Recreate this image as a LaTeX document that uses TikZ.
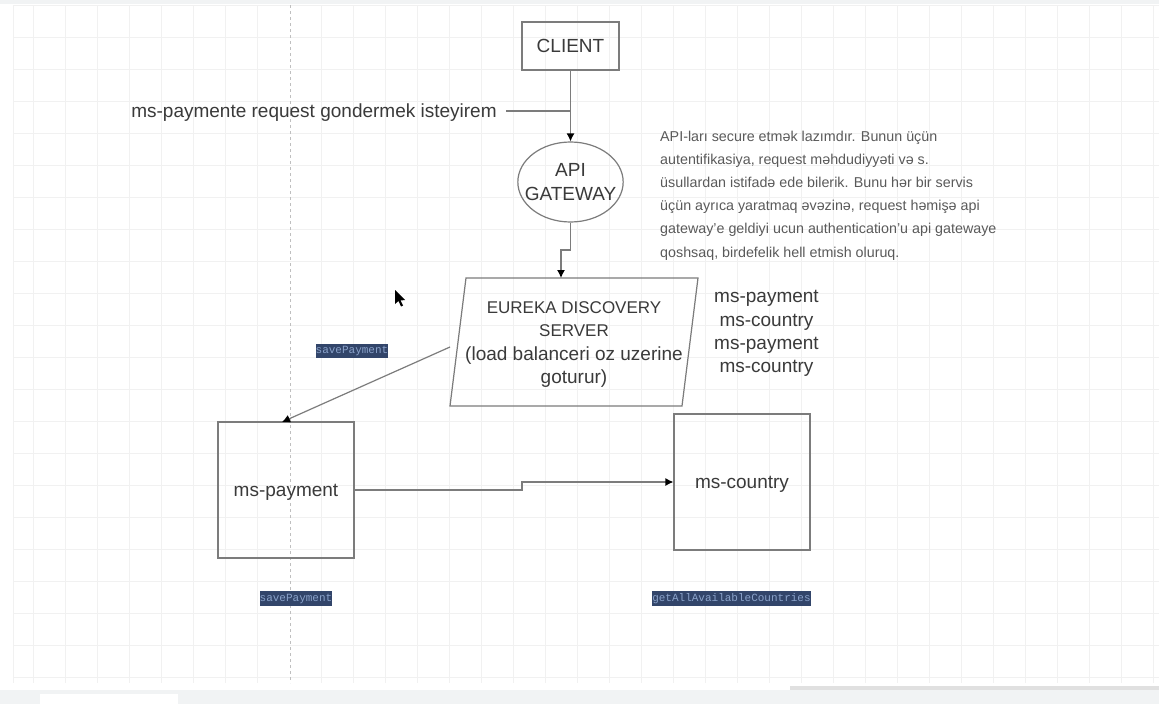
\documentclass[tikz,border=0pt]{standalone}
\usepackage{fontspec}
\setmainfont{Liberation Sans}
\setmonofont{Liberation Mono}
\usepackage{xcolor}
\usetikzlibrary{calc, positioning, arrows.meta, shapes.geometric}
\definecolor{gridgray}{HTML}{F1F1F1}
\definecolor{shapegray}{HTML}{7C7C7C}
\definecolor{textgray}{HTML}{3A3A3A}
\definecolor{notegray}{HTML}{5A5A5A}
\definecolor{markbg}{HTML}{32456A}
\definecolor{marktext}{HTML}{8AA2CA}
\definecolor{barbg}{HTML}{F1F3F4}
\tikzset{
	label19/.style={text=textgray, font=\fontsize{19}{23.5}\selectfont},
	boxshape/.style={draw=shapegray, line width=1.2, label19, inner sep=0},
	squarebox/.style={boxshape, minimum width=136, minimum height=136, text height=17.6, text depth=4},
	flow/.style={draw=shapegray, line width=1.2, -{Latex[length=8,width=8,color=black]}},
	marked/.style={fill=markbg, text=marktext, font=\ttfamily\fontsize{11}{13}\selectfont, inner sep=0, minimum height=14.5}
}

\begin{document}
\begin{tikzpicture}
	[x=1pt, y=-1pt, node distance=136pt]
	\useasboundingbox (0,0) rectangle (1159,704);
	% canvas %
	\fill[white] (0,0) rectangle (1159,704);
	\fill[barbg] (0,0) rectangle (1159,4);
	\foreach \gx in {13,33,65,97,129,161,193,225,257,321,353,385,417,449,481,513,545,577,609,641,673,705,737,769,801,833,865,897,929,961,993,1025,1057,1089,1121,1153}
		\draw[gridgray, line width=0.8] (\gx,5) -- (\gx,683);
	\foreach \gy in {5,37,...,683}
		\draw[gridgray, line width=0.8] (13,\gy) -- (1159,\gy);
	\draw[black!25, dashed, line width=0.8] (290,5) -- (290,683);
	\fill[barbg] (0,690) rectangle (1159,704);
	\fill[white] (40,694) rectangle (178,704);
	\fill[black!12] (790,686) rectangle (1159,690);
	\fill[black] (395,290) -- (395,304) -- (398.5,301) -- (401,306.5) -- (403,305.5) -- (400.5,300.5) -- (405,300) -- cycle;

	% nodes %
	\node[boxshape, minimum width=97, minimum height=48] (client) at (570.5,46) {CLIENT};
	\node[boxshape, ellipse, below of = client, inner xsep=-8.5, minimum height=80, align=center] (api) {API\\GATEWAY};
	\node[label19, align=center] (server) at (574,344.5) {{\fontsize{17}{23.5}\selectfont EUREKA DISCOVERY}\\{\fontsize{17}{23.5}\selectfont SERVER}\\(load balanceri oz uzerine\\goturur)};
	\draw[draw=shapegray, line width=1.2] (466,278) -- (698,278) -- (682,406) -- (450,406) -- cycle;
	\node[squarebox] (payment) at (286,490) {ms-payment};
	\node[squarebox] (country) at (742,482) {ms-country};
	\node[text=textgray, font=\fontsize{19}{22}\selectfont] (request) at (314,113) {ms-paymente request gondermek isteyirem};
	\node[text=notegray, font=\fontsize{14.3}{23.2}\selectfont, align=left, anchor=north west, inner sep=0] (note) at (660,130.5) {API-ları secure etmək lazımdır. Bunun üçün\\autentifikasiya, request məhdudiyyəti və s.\\üsullardan istifadə ede bilerik. Bunu hər bir servis\\üçün ayrıca yaratmaq əvəzinə, request həmişə api\\gateway'e geldiyi ucun authentication'u api gatewaye\\qoshsaq, birdefelik hell etmish oluruq.};
	\node[label19, align=center, font=\fontsize{19}{23.2}\selectfont] (instances) at (766.5,333.5) {ms-payment\\ms-country\\ms-payment\\ms-country};
	\node[marked, minimum width=72] (savetop) at (352,351) {savePayment};
	\node[marked, minimum width=72] (savebottom) at (296,598.5) {savePayment};
	\node[marked, minimum width=159] (countries) at (731.5,598.5) {getAllAvailableCountries};

	\coordinate (reqstart) at (506,111);
	\coordinate (reqjoin) at (570.5,111);
	\coordinate (serverleft) at (450,347);
	\coordinate (paytop) at (282,422);
	\coordinate (apibend) at (570.5,250);
	\coordinate (servertop) at (561,278);
	\coordinate (payright) at (354,490);
	\coordinate (bend) at (522,490);

	% edges %
	\draw[flow] (client) -- (api);
	\draw[draw=shapegray, line width=1.2] (reqstart) -- (reqjoin);
	\draw[flow] (api) -- (apibend) -| (servertop);
	\draw[flow] (serverleft) -- (paytop);
	\draw[flow] (payright) -- (bend) |- (country);
\end{tikzpicture}
\end{document}
